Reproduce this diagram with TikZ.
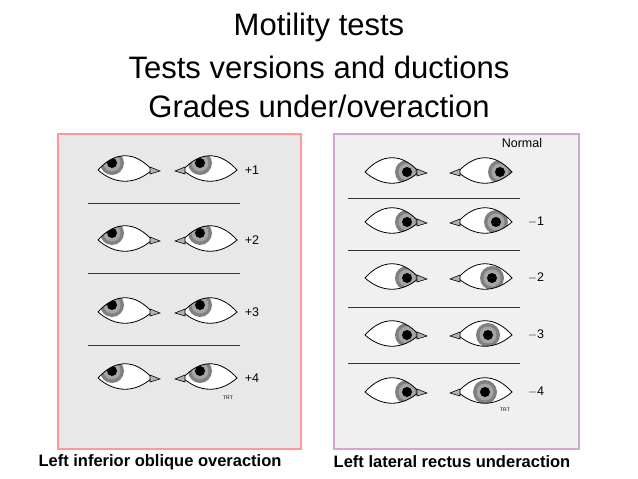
\documentclass[tikz,border=0pt]{standalone}
\usepackage{fontspec}
\setmainfont{Liberation Sans}
\begin{document}
\begin{tikzpicture}[x=1pt,y=-1pt,
  title/.style={font=\fontsize{31}{34}\selectfont},
  captext/.style={font=\bfseries\fontsize{16.5}{19}\selectfont},
  grade/.style={font=\fontsize{12.5}{14}\selectfont},
  sep/.style={draw=black!80,line width=0.8pt}]
\useasboundingbox (0,0) rectangle (638,479);
\newcommand\myeye[5]{%
 \begin{scope}[shift={(#1,#2)}]
  \fill[white] (-27,0) .. controls (-10,-19) and (10,-19) .. (27,0) .. controls (10,15) and (-10,15) .. (-27,0);
  \begin{scope}
   \clip (-27,0) .. controls (-10,-19) and (10,-19) .. (27,0) .. controls (10,15) and (-10,15) .. (-27,0);
   \fill[black!50] (#3,#4) circle (12);
   \fill[black!25,opacity=0.6] (#3,#4) circle (8.5);
   \fill[black] (#3,#4) circle (5);
  \end{scope}
  \draw[line width=0.8pt] (-27,0) .. controls (-10,-19) and (10,-19) .. (27,0) .. controls (10,15) and (-10,15) .. (-27,0);
  \draw[line width=0.6pt,fill=black!30] (#5*25,-3) -- (#5*35,1) -- (#5*25,4) -- cycle;
 \end{scope}}
\node[title] (t1) at (319,27) {Motility tests};
\node[title] (t2) at (319,67) {Tests versions and ductions};
\node[title] (t3) at (319,106) {Grades under/overaction};
% left panel
\node[draw=red!40,line width=2pt,fill=black!9,minimum width=243pt,minimum height=315pt,anchor=north west] (lp) at (57,133) {};
\foreach \y/\g in {170/+1,240/+2,312/+3,378/+4}{
  \myeye{125}{\y}{-13}{-7}{1}
  \myeye{210}{\y}{-10}{-7}{-1}
  \node[grade] at (252,\y) {\g};}
\foreach \y in {203,273,345}{\draw[sep] (88,\y) -- (240,\y);}
\node[font=\tiny] (tr1) at (228,398) {TRT};
% right panel
\node[draw=violet!35,line width=2pt,fill=black!6,minimum width=245pt,minimum height=315pt,anchor=north west] (rp) at (333,133) {};
\myeye{392}{172}{15}{0}{1}
\myeye{485}{172}{15}{0}{-1}
\myeye{392}{222}{15}{0}{1}
\myeye{485}{222}{11}{0}{-1}
\myeye{392}{278}{15}{0}{1}
\myeye{485}{278}{7}{0}{-1}
\myeye{392}{335}{15}{0}{1}
\myeye{485}{335}{3}{0}{-1}
\myeye{392}{392}{15}{0}{1}
\myeye{485}{392}{0}{0}{-1}
\foreach \y in {198,250,307,363}{\draw[sep] (348,\y) -- (520,\y);}
\node[grade] (nm) at (522,143) {Normal};
\foreach \y/\g in {222/$-$1,278/$-$2,335/$-$3,392/$-$4}{\node[grade] at (536,\y) {\g};}
\node[font=\tiny] (tr2) at (505,410) {TRT};
\node[captext] (c1) at (160,462) {Left inferior oblique overaction};
\node[captext] (c2) at (452,462) {Left lateral rectus underaction};
\end{tikzpicture}
\end{document}
